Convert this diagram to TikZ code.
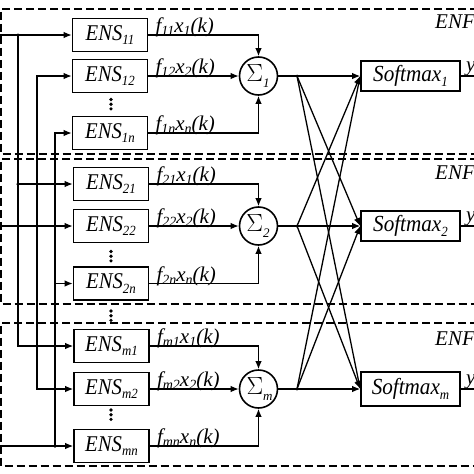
\documentclass[tikz,border=0pt]{standalone}
\usepackage{fontspec}
\setmainfont{Liberation Serif}
\newfontfamily\narrowtnr[FakeStretch=0.92]{Liberation Serif}
\usetikzlibrary{arrows.meta}
\newcommand{\sbs}[1]{\raisebox{-0.45ex}{\fontsize{14}{14}\selectfont\itshape #1}}
\newcommand{\lsbs}[1]{\raisebox{-0.3ex}{\fontsize{14}{14}\selectfont\itshape #1}}
\newcommand{\ssbs}[1]{\raisebox{-0.45ex}{\fontsize{13}{13}\selectfont\itshape #1}}
\begin{document}
\begin{tikzpicture}[x=1pt,y=-1pt,
  ens/.style={draw, line width=1.6pt, minimum width=75pt, minimum height=33pt, inner sep=0pt,
    font=\narrowtnr\fontsize{22.5}{22.5}\selectfont\itshape},
  sig/.style={circle, draw, line width=1.6pt, minimum size=38pt, inner sep=0pt,
    font=\fontsize{26}{26}\selectfont},
  smx/.style={draw, line width=1.6pt, minimum width=99pt, minimum height=30pt, inner sep=0pt,
    font=\narrowtnr\fontsize{23}{23}\selectfont\itshape},
  lab/.style={inner sep=1pt, font=\fontsize{21}{21}\selectfont\itshape},
  arr/.style={line width=1.3pt, -{Latex[length=8pt,width=6.5pt]}},
  ln/.style={line width=1.3pt},
  frame/.style={line width=1.4pt, dash pattern=on 8pt off 4pt},
  jdot/.style={circle, fill, inner sep=0pt, minimum size=3.5pt},
  edot/.style={circle, fill, inner sep=0pt, minimum size=3.6pt}]
\useasboundingbox (0,0) rectangle (474,474);

% dashed frames
\draw[frame] (490,9) -- (0.8,9) -- (0.8,154) -- (490,154);
\draw[frame] (490,159) -- (0.8,159) -- (0.8,304) -- (490,304);
\draw[frame] (490,323) -- (0.8,323) -- (0.8,466) -- (490,466);
\node[lab, anchor=base west] (enf1) at (434,28) {ENF};
\node[lab, anchor=base west] (enf2) at (434,179) {ENF};
\node[lab, anchor=base west] (enf3) at (434,345) {ENF};

% ENS blocks
\node[ens] (e11) at (110,35) {ENS\sbs{11}};
\node[ens] (e12) at (110,76) {ENS\sbs{12}};
\node[ens] (e1n) at (110,133) {ENS\sbs{1n}};
\node[ens] (e21) at (111,184) {ENS\sbs{21}};
\node[ens] (e22) at (111,226) {ENS\sbs{22}};
\node[ens] (e2n) at (111,283.5) {ENS\sbs{2n}};
\node[ens] (em1) at (111.5,346) {ENS\sbs{m1}};
\node[ens] (em2) at (111.5,389) {ENS\sbs{m2}};
\node[ens] (emn) at (111.5,446) {ENS\sbs{mn}};

% vertical ellipses
\foreach \n/\yy in {a/99.5, b/251.5, c/311, d/410}{
  \node[edot] (\n1) at (111,\yy) {};
  \node[edot] (\n2) at (111,\yy+4.7) {};
  \node[edot] (\n3) at (111,\yy+9.4) {};
}

% summation nodes
\node[sig] (s1) at (258.5,76) {\hspace*{-1pt}$\Sigma$\ssbs{1}};
\node[sig] (s2) at (258.5,226) {\hspace*{-1pt}$\Sigma$\ssbs{2}};
\node[sig] (sm) at (258.5,389) {\hspace*{2pt}$\Sigma$\ssbs{m}};

% softmax nodes
\node[smx] (o1) at (410.5,76) {Softmax\sbs{1}};
\node[smx] (o2) at (410.5,226) {Softmax\sbs{2}};
\node[smx, minimum height=34pt] (om) at (410.5,389) {Softmax\sbs{m}};

% inputs
\coordinate (i1) at (0,35);
\coordinate (i2) at (0,226);
\coordinate (i3) at (0,446);
\coordinate (c1) at (18,0);
\coordinate (c2) at (37,0);
\coordinate (c3) at (55,0);

\draw[arr] (i1) -- (e11.west);
\draw[arr] (c1 |- e11.west) |- (em1.west);
\draw[arr] (c1 |- e21.west) -- (e21.west);
\node[jdot] (j11) at (c1 |- e11.west) {};
\node[jdot] (j12) at (c1 |- e21.west) {};

\draw[arr] (i2) -- (e22.west);
\draw[arr] (c2 |- e22.west) |- (e12.west);
\draw[arr] (c2 |- e22.west) |- (em2.west);
\node[jdot] (j21) at (c2 |- e22.west) {};

\draw[arr] (i3) -- (emn.west);
\draw[arr] (c3 |- emn.west) |- (e1n.west);
\draw[arr] (c3 |- e2n.west) -- (e2n.west);
\node[jdot] (j31) at (c3 |- emn.west) {};

% ENS to sums
\draw[arr] (e11.east) -| (s1.north);
\draw[arr] (e12.east) -- (s1.west);
\draw[arr] (e1n.east) -| (s1.south);
\draw[arr] (e21.east) -| (s2.north);
\draw[arr] (e22.east) -- (s2.west);
\draw[arr] (e2n.east) -| (s2.south);
\draw[arr] (em1.east) -| (sm.north);
\draw[arr] (em2.east) -- (sm.west);
\draw[arr] (emn.east) -| (sm.south);

% labels
\node[lab, anchor=south west] (l11) at ([xshift=6pt,yshift=-3.5pt]e11.east) {f\lsbs{11}x\lsbs{1}(k)};
\node[lab, anchor=south west] (l12) at ([xshift=6pt,yshift=-3.5pt]e12.east) {f\lsbs{12}x\lsbs{2}(k)};
\node[lab, anchor=south west] (l1n) at ([xshift=6pt,yshift=-3.5pt]e1n.east) {f\lsbs{1n}x\lsbs{n}(k)};
\node[lab, anchor=south west] (l21) at ([xshift=6pt,yshift=-3.5pt]e21.east) {f\lsbs{21}x\lsbs{1}(k)};
\node[lab, anchor=south west] (l22) at ([xshift=6pt,yshift=-3.5pt]e22.east) {f\lsbs{22}x\lsbs{2}(k)};
\node[lab, anchor=south west] (l2n) at ([xshift=6pt,yshift=-3.5pt]e2n.east) {f\lsbs{2n}x\lsbs{n}(k)};
\node[lab, anchor=south west] (lm1) at ([xshift=6pt,yshift=-3.5pt]em1.east) {f\lsbs{m1}x\lsbs{1}(k)};
\node[lab, anchor=south west] (lm2) at ([xshift=6pt,yshift=-3.5pt]em2.east) {f\lsbs{m2}x\lsbs{2}(k)};
\node[lab, anchor=south west] (lmn) at ([xshift=6pt,yshift=-3.5pt]emn.east) {f\lsbs{mn}x\lsbs{n}(k)};

% sums to softmax
\coordinate (d1) at (297,76);
\coordinate (d2) at (297,226);
\coordinate (dm) at (297,389);
\draw[ln] (s1.east) -- (d1);
\draw[ln] (s2.east) -- (d2);
\draw[ln] (sm.east) -- (dm);
\node[jdot, minimum size=3pt] (k1) at (d1) {};
\node[jdot, minimum size=3pt] (k2) at (d2) {};
\node[jdot, minimum size=3pt] (km) at (dm) {};
\foreach \a in {d1,d2,dm}{
  \foreach \b in {o1,o2,om}{
    \draw[arr] (\a) -- (\b.west);
  }
}

% outputs
\coordinate (y1) at (490,76);
\coordinate (y2) at (490,226);
\coordinate (ym) at (490,389);
\draw[ln] (o1.east) -- (y1);
\draw[ln] (o2.east) -- (y2);
\draw[ln] (om.east) -- (ym);
\node[lab, anchor=base west] (ly1) at (465,71) {y\sbs{1}};
\node[lab, anchor=base west] (ly2) at (465,221) {y\sbs{2}};
\node[lab, anchor=base west] (lym) at (465,384) {y\sbs{m}};
\end{tikzpicture}
\end{document}
